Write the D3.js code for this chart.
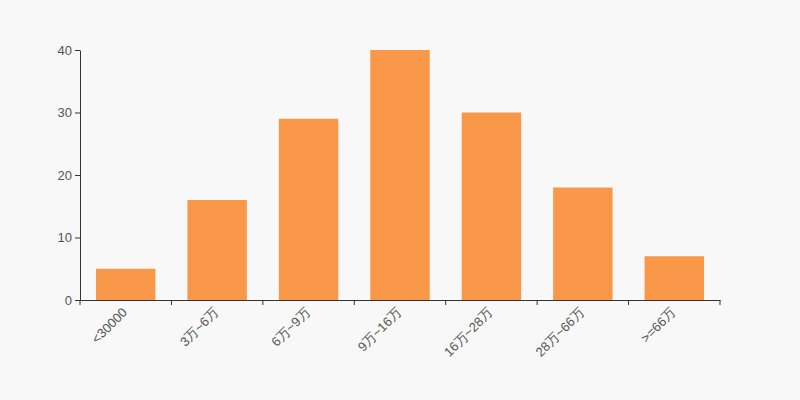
<!DOCTYPE html>
<html>
<head>
<meta charset="utf-8">
<script src="https://cdn.jsdelivr.net/npm/d3@7"></script>
<style>
  body { margin: 0; background: #f8f8f8; }
  svg { display: block; }
</style>
</head>
<body>
<div id="chart"></div>
<script>
const categories = ["<30000", "3万~6万", "6万~9万", "9万~16万", "16万~28万", "28万~66万", ">=66万"];
const values = [5, 16, 29, 40, 30, 18, 7];
const yTicks = [0, 10, 20, 30, 40];

const width = 800;
const height = 400;
const margin = {t: 50, b: 100, l: 80, r: 80};

const svg = d3.select("#chart")
    .append("svg")
    .attr("width", width)
    .attr("height", height)
    .style("background-color", "#f8f8f8")
    .style("font-family", "'Liberation Sans', Arial, 'Noto Sans CJK SC', sans-serif");

const xScale = d3.scaleBand()
    .domain(categories)
    .range([margin.l, width - margin.r])
    .paddingInner(0.35)
    .paddingOuter(0.175);

const bandScale = d3.scaleBand()
    .domain(categories)
    .range([margin.l, width - margin.r]);

const yScale = d3.scaleLinear()
    .domain([0, 40])
    .range([height - margin.b, margin.t]);

// bars
svg.append("g")
    .selectAll("rect")
    .data(values)
    .join("rect")
    .attr("x", (d, i) => xScale(categories[i]))
    .attr("y", d => yScale(d))
    .attr("width", xScale.bandwidth())
    .attr("height", d => yScale(0) - yScale(d))
    .style("fill", "#f89848");

// y axis
const yAxis = svg.append("g")
    .attr("transform", `translate(${margin.l}, 0)`)
    .call(d3.axisLeft(yScale).tickValues(yTicks).tickSize(5).tickSizeOuter(0).tickPadding(3));
yAxis.select(".domain").attr("stroke", "#333");
yAxis.selectAll(".tick line").attr("stroke", "#333");
yAxis.selectAll("text")
    .style("font-size", "13px")
    .style("font-family", "'Liberation Sans', Arial, sans-serif")
    .attr("fill", "#555");

// x axis, ticks on band boundaries
const xAxis = svg.append("g")
    .attr("transform", `translate(0, ${height - margin.b})`)
    .call(d3.axisBottom(bandScale).tickSize(0).tickFormat(""));
xAxis.select(".domain").attr("stroke", "#333");
xAxis.selectAll(".tick").remove();

const bounds = categories.map(c => bandScale(c)).concat([width - margin.r]);
xAxis.selectAll(".bound")
    .data(bounds)
    .join("line")
    .attr("class", "bound")
    .attr("x1", d => d)
    .attr("x2", d => d)
    .attr("y1", 0)
    .attr("y2", 5)
    .attr("stroke", "#333");

xAxis.selectAll(".lbl")
    .data(categories)
    .join("text")
    .attr("class", "lbl")
    .attr("transform", d => `translate(${bandScale(d) + bandScale.bandwidth() / 2 - 1}, 10) rotate(-45)`)
    .attr("text-anchor", "end")
    .attr("dy", "0.35em")
    .style("font-size", "13px")
    .attr("fill", "#555")
    .text(d => d);
</script>
</body>
</html>
